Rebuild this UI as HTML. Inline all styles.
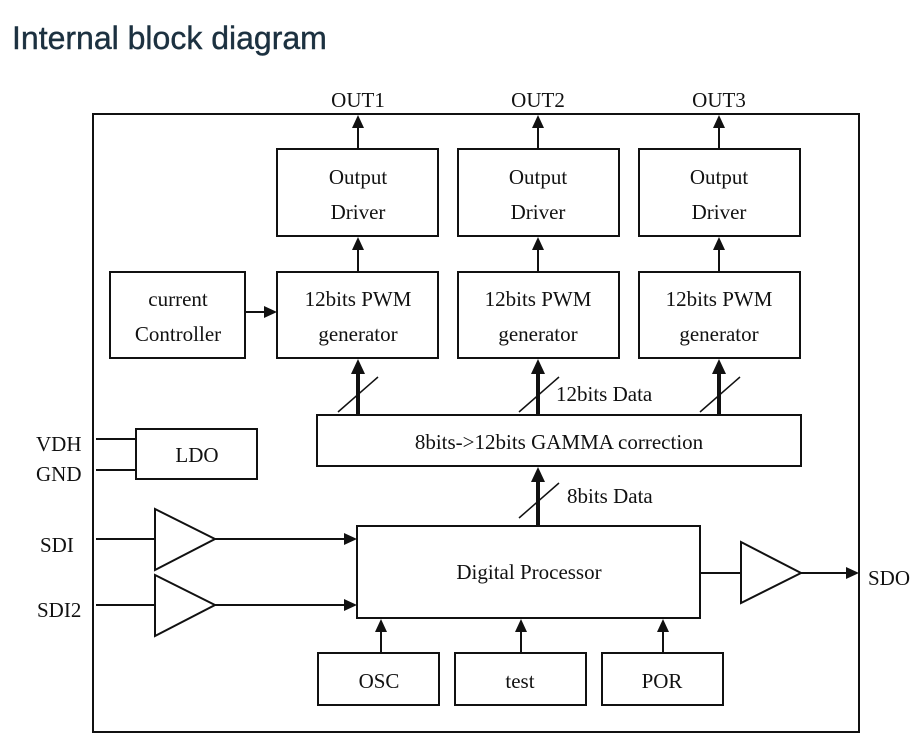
<!DOCTYPE html>
<html><head><meta charset="utf-8"><style>
html,body{margin:0;padding:0;background:#fff;width:921px;height:754px;overflow:hidden}
svg{display:block}
text{font-family:"Liberation Serif",serif;font-size:21px;fill:#111}
</style></head><body>
<svg width="921" height="754" viewBox="0 0 921 754">
<text x="12" y="49" style="font-family:'Liberation Sans',sans-serif;font-size:32px;fill:#1c3140;stroke:#1c3140;stroke-width:0.4">Internal block diagram</text>
<g fill="none" stroke="#111" stroke-width="2">
<rect x="93" y="114" width="766" height="618"/>
<rect x="277" y="149" width="161" height="87"/>
<rect x="458" y="149" width="161" height="87"/>
<rect x="639" y="149" width="161" height="87"/>
<rect x="277" y="272" width="161" height="86"/>
<rect x="458" y="272" width="161" height="86"/>
<rect x="639" y="272" width="161" height="86"/>
<rect x="110" y="272" width="135" height="86"/>
<rect x="317" y="415" width="484" height="51"/>
<rect x="136" y="429" width="121" height="50"/>
<rect x="357" y="526" width="343" height="92"/>
<rect x="318" y="653" width="121" height="52"/>
<rect x="455" y="653" width="131" height="52"/>
<rect x="602" y="653" width="121" height="52"/>
<path d="M155,509 L215,539 L155,570 Z M155,575 L215,605 L155,636 Z M741,542 L801,573 L741,603 Z"/>
<path d="M96,439 H136 M96,470 H136 M96,539 H155 M96,605 H155 M700,573 H741"/>
<path d="M358,149 V125 M538,149 V125 M719,149 V125 M358,272 V248 M538,272 V248 M719,272 V248 M245,312 H266 M215,539 H346 M215,605 H346 M801,573 H848 M381,653 V630 M521,653 V630 M663,653 V630"/>
</g>
<g fill="#111">
<path d="M358,115 L352,128 L364,128 Z M538,115 L532,128 L544,128 Z M719,115 L713,128 L725,128 Z"/>
<path d="M358,237 L352,250 L364,250 Z M538,237 L532,250 L544,250 Z M719,237 L713,250 L725,250 Z"/>
<path d="M277,312 L264,306 L264,318 Z M357,539 L344,533 L344,545 Z M357,605 L344,599 L344,611 Z M859,573 L846,567 L846,579 Z"/>
<path d="M381,619 L375,632 L387,632 Z M521,619 L515,632 L527,632 Z M663,619 L657,632 L669,632 Z"/>
<path d="M358,359 L351,374 L365,374 Z M538,359 L531,374 L545,374 Z M719,359 L712,374 L726,374 Z M538,467 L531,482 L545,482 Z"/>
</g>
<g fill="none" stroke="#111" stroke-width="4">
<path d="M358,415 V372 M538,415 V372 M719,415 V372 M538,526 V480"/>
</g>
<g stroke="#111" stroke-width="1.5">
<path d="M338,412 L378,377 M519,412 L559,377 M700,412 L740,377 M519,518 L559,483"/>
</g>
<g text-anchor="middle">
<text x="358" y="107">OUT1</text><text x="538" y="107">OUT2</text><text x="719" y="107">OUT3</text>
<text x="358" y="184">Output</text><text x="358" y="219">Driver</text>
<text x="538" y="184">Output</text><text x="538" y="219">Driver</text>
<text x="719" y="184">Output</text><text x="719" y="219">Driver</text>
<text x="358" y="306">12bits PWM</text><text x="358" y="341">generator</text>
<text x="538" y="306">12bits PWM</text><text x="538" y="341">generator</text>
<text x="719" y="306">12bits PWM</text><text x="719" y="341">generator</text>
<text x="178" y="306">current</text><text x="178" y="341">Controller</text>
<text x="559" y="449">8bits-&gt;12bits GAMMA correction</text>
<text x="197" y="462">LDO</text>
<text x="529" y="579">Digital Processor</text>
<text x="379" y="688">OSC</text><text x="520" y="688">test</text><text x="662" y="688">POR</text>
</g>
<text x="556" y="401">12bits Data</text>
<text x="567" y="503">8bits Data</text>
<text x="36" y="451">VDH</text><text x="36" y="481">GND</text>
<text x="40" y="552">SDI</text><text x="37" y="617">SDI2</text>
<text x="868" y="585">SDO</text>
</svg>
</body></html>
